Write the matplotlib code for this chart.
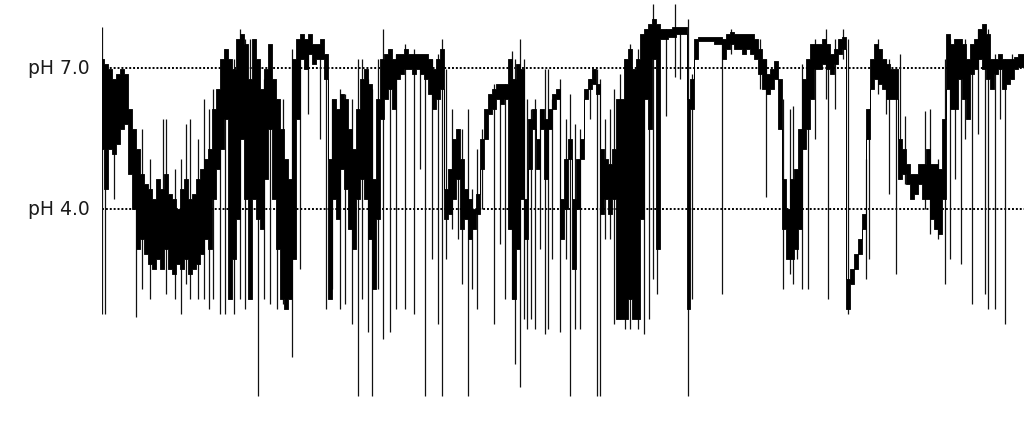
import matplotlib
matplotlib.use("Agg")
import matplotlib.pyplot as plt
import numpy as np

# time axis (arbitrary units across the recording)
t_body = [0, 4, 8, 12, 16, 20, 24, 28, 32, 36, 40, 44, 48, 52, 56, 60, 64, 68, 72, 76,
          80, 84, 88, 92, 96, 100, 104, 108, 112, 116, 120, 124, 128, 132, 136, 140, 144, 148, 152, 156,
          160, 164, 168, 172, 176, 180, 184, 188, 192, 196, 200, 204, 208, 212, 216, 220, 224, 228, 232, 236,
          240, 244, 248, 252, 256, 260, 264, 268, 272, 276, 280, 284, 288, 292, 296, 300, 304, 308, 312, 316,
          320, 324, 328, 332, 336, 340, 344, 348, 352, 356, 360, 364, 368, 372, 376, 380, 384, 388, 392, 396,
          400, 404, 408, 412, 416, 420, 424, 428, 432, 436, 440, 444, 448, 452, 456, 460, 464, 468, 472, 476,
          480, 484, 488, 492, 496, 500, 504, 508, 512, 516, 520, 524, 528, 532, 536, 540, 544, 548, 552, 556,
          560, 564, 568, 572, 576, 580, 584, 586, 590, 594, 598, 602, 606, 610, 614, 618, 622, 626, 630, 634,
          638, 642, 646, 650, 654, 658, 662, 666, 670, 674, 678, 682, 686, 690, 694, 698, 702, 706, 710, 714,
          718, 722, 726, 730, 734, 738, 742, 746, 750, 754, 758, 762, 766, 770, 774, 778, 782, 786, 790, 794,
          798, 802, 806, 810, 814, 818, 822, 826, 830, 834, 838, 842, 846, 850, 854, 858, 862, 866, 870, 874,
          878, 882, 886, 890, 894, 898, 902, 906, 910, 914, 918, 922]

ph_high = [7.19, 7.09, 6.98, 6.77, 6.87, 6.98, 6.87, 6.13, 5.70, 5.28, 4.74, 4.53, 4.43, 4.21, 4.64, 4.43, 4.74, 4.32, 4.21, 4.00,
           4.43, 4.64, 4.21, 4.32, 4.64, 4.85, 5.06, 5.28, 6.13, 6.55, 7.19, 7.40, 7.19, 6.98, 7.62, 7.72, 7.51, 6.77, 7.62, 7.19,
           6.55, 6.98, 7.51, 6.77, 6.34, 5.70, 5.06, 4.64, 7.19, 7.62, 7.72, 7.62, 7.72, 7.51, 7.51, 7.62, 7.30, 5.06, 6.34, 6.13,
           6.45, 6.34, 5.70, 5.28, 6.13, 6.77, 6.98, 6.66, 4.64, 6.34, 7.19, 7.30, 7.40, 7.19, 7.30, 7.30, 7.40, 7.30, 7.30, 7.30,
           7.30, 7.30, 7.19, 6.98, 7.19, 7.40, 4.43, 4.85, 5.49, 5.70, 5.06, 4.43, 4.21, 4.00, 4.32, 5.49, 6.13, 6.45, 6.55, 6.66,
           6.66, 6.66, 7.19, 6.77, 7.09, 6.98, 4.21, 5.91, 6.13, 5.49, 6.13, 5.91, 6.13, 6.45, 6.55, 4.21, 5.06, 5.49, 4.21, 5.06,
           5.49, 6.55, 6.77, 6.98, 6.66, 5.28, 5.06, 4.96, 5.28, 6.34, 6.34, 7.19, 7.40, 6.98, 7.19, 7.72, 7.83, 7.94, 8.04, 7.94,
           7.83, 7.83, 7.83, 7.87, 7.87, 7.87, 7.87, 6.34, 6.77, 7.62, 7.66, 7.66, 7.66, 7.66, 7.66, 7.66, 7.62, 7.72, 7.77, 7.72,
           7.72, 7.72, 7.72, 7.72, 7.62, 7.40, 7.19, 6.87, 6.98, 7.15, 6.77, 4.64, 4.00, 4.64, 4.85, 5.70, 6.77, 7.19, 7.51, 7.51,
           7.51, 7.62, 7.51, 7.30, 7.40, 7.62, 7.66, 2.51, 2.72, 3.04, 3.36, 3.89, 6.13, 7.19, 7.51, 7.40, 7.19, 7.09, 6.98, 6.98,
           5.49, 5.28, 4.96, 4.74, 4.74, 4.96, 4.96, 5.28, 4.96, 4.96, 4.85, 5.91, 7.72, 7.51, 7.62, 7.62, 7.51, 7.19, 7.51, 7.62,
           7.83, 7.94, 7.72, 7.19, 7.19, 7.30, 7.19, 7.19, 7.19, 7.23, 7.30, 7.30]

ph_low = [5.28, 4.43, 5.28, 5.17, 5.38, 5.70, 5.81, 4.74, 4.00, 3.15, 3.36, 3.04, 2.83, 2.72, 2.94, 2.72, 3.15, 2.72, 2.62, 2.83,
          2.72, 2.94, 2.62, 2.72, 2.83, 3.04, 3.36, 3.15, 4.21, 4.85, 5.28, 5.91, 2.09, 2.94, 3.79, 5.49, 4.21, 2.09, 4.21, 3.79,
          3.57, 4.64, 5.70, 4.21, 3.15, 2.09, 1.87, 2.09, 2.94, 5.91, 7.19, 6.98, 7.30, 7.09, 7.19, 7.19, 6.77, 2.09, 4.21, 3.79,
          4.85, 4.43, 3.57, 3.15, 4.21, 4.64, 4.21, 3.36, 2.30, 3.79, 5.91, 6.34, 6.55, 6.13, 6.77, 6.87, 6.98, 6.98, 6.87, 6.98,
          6.87, 6.77, 6.45, 6.13, 6.34, 6.55, 3.79, 3.89, 4.21, 4.64, 3.57, 3.79, 3.36, 3.57, 3.89, 4.85, 5.49, 6.02, 6.13, 6.34,
          6.23, 6.34, 3.57, 2.09, 3.15, 4.21, 3.36, 4.85, 5.70, 4.85, 5.70, 4.64, 5.70, 6.13, 6.34, 3.36, 4.00, 5.06, 2.72, 4.00,
          5.06, 6.34, 6.55, 6.66, 6.45, 3.89, 4.21, 3.89, 4.21, 1.66, 1.66, 1.66, 2.09, 1.66, 1.66, 3.79, 6.34, 5.70, 7.19, 3.15,
          7.62, 7.62, 7.66, 7.66, 7.72, 7.72, 7.72, 1.87, 6.13, 7.19, 7.57, 7.57, 7.57, 7.57, 7.51, 7.51, 7.19, 7.40, 7.51, 7.40,
          7.40, 7.30, 7.40, 7.30, 7.19, 6.87, 6.55, 6.45, 6.55, 6.77, 5.70, 3.57, 2.94, 2.94, 3.15, 3.57, 5.28, 5.70, 6.34, 6.98,
          6.98, 7.09, 6.98, 6.87, 7.09, 7.30, 7.40, 1.87, 2.40, 2.72, 3.04, 3.57, 5.49, 6.55, 6.77, 6.66, 6.55, 6.34, 6.34, 6.34,
          4.64, 4.74, 4.53, 4.21, 4.32, 4.53, 4.21, 4.21, 3.79, 3.57, 3.47, 4.21, 6.55, 6.13, 6.13, 6.77, 6.34, 5.91, 6.87, 6.98,
          7.19, 6.98, 6.77, 6.55, 6.87, 6.98, 6.55, 6.66, 6.77, 6.98, 7.02, 7.02]

# brief excursions (each a fast vertical swing between two pH values)
spike_t = [0, 3, 12, 34, 40, 48, 61, 64, 73, 79, 84, 88, 96, 102, 107, 111, 118, 123, 132, 138,
           143, 148, 156, 162, 168, 175, 181, 190, 198, 206, 218, 224, 230, 238, 243, 250, 256, 260, 266, 270,
           276, 281, 288, 294, 303, 312, 318, 323, 330, 336, 340, 344, 350, 356, 360, 366, 370, 375, 380, 392,
           398, 403, 410, 413, 418, 422, 425, 429, 433, 438, 443, 446, 450, 458, 464, 468, 473, 478, 488, 495,
           498, 503, 508, 512, 518, 523, 528, 536, 542, 547, 551, 555, 564, 573, 578, 586, 590, 620, 629, 658,
           664, 681, 688, 691, 695, 700, 706, 713, 724, 726, 733, 741, 746, 764, 767, 776, 784, 787, 794, 798,
           803, 823, 828, 836, 843, 848, 853, 859, 863, 870, 876, 883, 886, 893, 898, 903, 910]
spike_high = [7.87, 6.34, 6.13, 4.64, 5.70, 5.06, 5.91, 5.91, 4.85, 5.06, 5.81, 5.91, 5.49, 6.34, 6.13, 6.55, 6.34, 7.40, 7.19, 7.83,
              7.62, 7.62, 6.34, 6.77, 6.77, 6.34, 6.34, 7.40, 7.62, 7.40, 7.51, 7.30, 6.34, 6.55, 6.45, 6.34, 7.19, 7.19, 6.77, 6.55,
              7.19, 7.83, 7.40, 7.30, 7.51, 7.40, 7.19, 7.19, 7.19, 7.30, 7.62, 6.98, 6.13, 5.70, 5.70, 6.13, 4.43, 5.28, 5.70, 6.66,
              6.55, 6.66, 7.36, 7.19, 7.62, 7.19, 6.34, 6.13, 6.34, 6.13, 6.98, 6.98, 6.34, 6.77, 5.91, 6.45, 5.81, 5.70, 6.77, 6.98,
              6.77, 5.91, 6.13, 6.55, 6.87, 7.19, 7.51, 7.40, 7.72, 7.83, 8.36, 7.62, 7.83, 8.36, 7.83, 8.04, 6.87, 7.62, 7.83, 7.62,
              7.19, 6.34, 6.13, 6.19, 4.64, 7.09, 6.98, 7.62, 7.83, 7.51, 7.62, 7.83, 7.62, 5.06, 6.13, 7.62, 7.19, 7.19, 6.87, 7.30,
              5.98, 6.09, 6.13, 5.06, 7.19, 7.62, 7.51, 7.62, 7.62, 7.40, 7.83, 7.94, 7.83, 7.30, 7.19, 7.19, 7.30]
spike_low = [1.77, 1.77, 4.21, 1.70, 2.30, 2.09, 2.94, 2.19, 2.09, 1.77, 2.40, 2.09, 2.09, 2.09, 1.87, 2.09, 1.77, 1.77, 1.77, 2.09,
             1.87, 2.19, 0.02, 2.09, 1.98, 1.87, 1.98, 0.85, 2.72, 6.02, 5.49, 1.87, 2.30, 1.87, 1.98, 1.55, 0.02, 2.09, 1.38, 0.02,
             2.30, 1.23, 1.38, 1.87, 1.87, 1.77, 4.85, 0.02, 2.94, 1.55, 0.02, 2.94, 3.57, 3.36, 2.40, 0.02, 2.30, 1.87, 4.00, 1.55,
             3.26, 2.09, 2.09, 0.70, 0.21, 1.66, 1.45, 1.66, 1.45, 3.15, 1.34, 1.45, 2.94, 1.38, 2.94, 0.02, 1.45, 1.45, 5.91, 0.02,
             0.02, 3.36, 3.36, 1.55, 1.66, 1.45, 1.45, 1.45, 1.34, 1.66, 2.51, 2.19, 5.98, 6.81, 6.77, 0.02, 2.09, 2.19, 7.30, 6.55,
             4.26, 2.30, 2.62, 2.40, 2.94, 2.30, 2.30, 5.49, 6.34, 2.09, 6.13, 7.19, 1.77, 2.51, 2.94, 6.45, 6.02, 4.32, 2.62, 4.64,
             4.53, 4.00, 3.47, 3.36, 2.40, 2.94, 4.64, 2.83, 5.49, 1.98, 5.60, 2.19, 1.87, 1.87, 5.91, 1.55, 6.77]

ref_levels = [7.0, 4.0]
ref_labels = ["pH 7.0", "pH 4.0"]

W, H = 1024, 435
fig = plt.figure(figsize=(W / 100, H / 100), dpi=100)
ax = fig.add_axes([102 / W, 0, 922 / W, 1])
ax.set_xlim(0, 922)
ax.set_ylim((398 - 435) / 47, 398 / 47)
ax.axis("off")

for lvl, lab in zip(ref_levels, ref_labels):
    ax.axhline(lvl, color="black", lw=1.4, ls=(0, (1, 1)), zorder=1)
    ax.text(-12 / 922, lvl, lab, transform=ax.get_yaxis_transform(), ha="right", va="center",
            fontsize=13.5, color="#1a1a1a", clip_on=False)

# dense body of the trace and the fast excursions
ax.fill_between(t_body, ph_low, ph_high, step="mid", color="black", lw=0.6, zorder=3)
ax.vlines(spike_t, spike_low, spike_high, color="#111111", lw=0.9, zorder=2)

fig.savefig("out.png", dpi=100)
